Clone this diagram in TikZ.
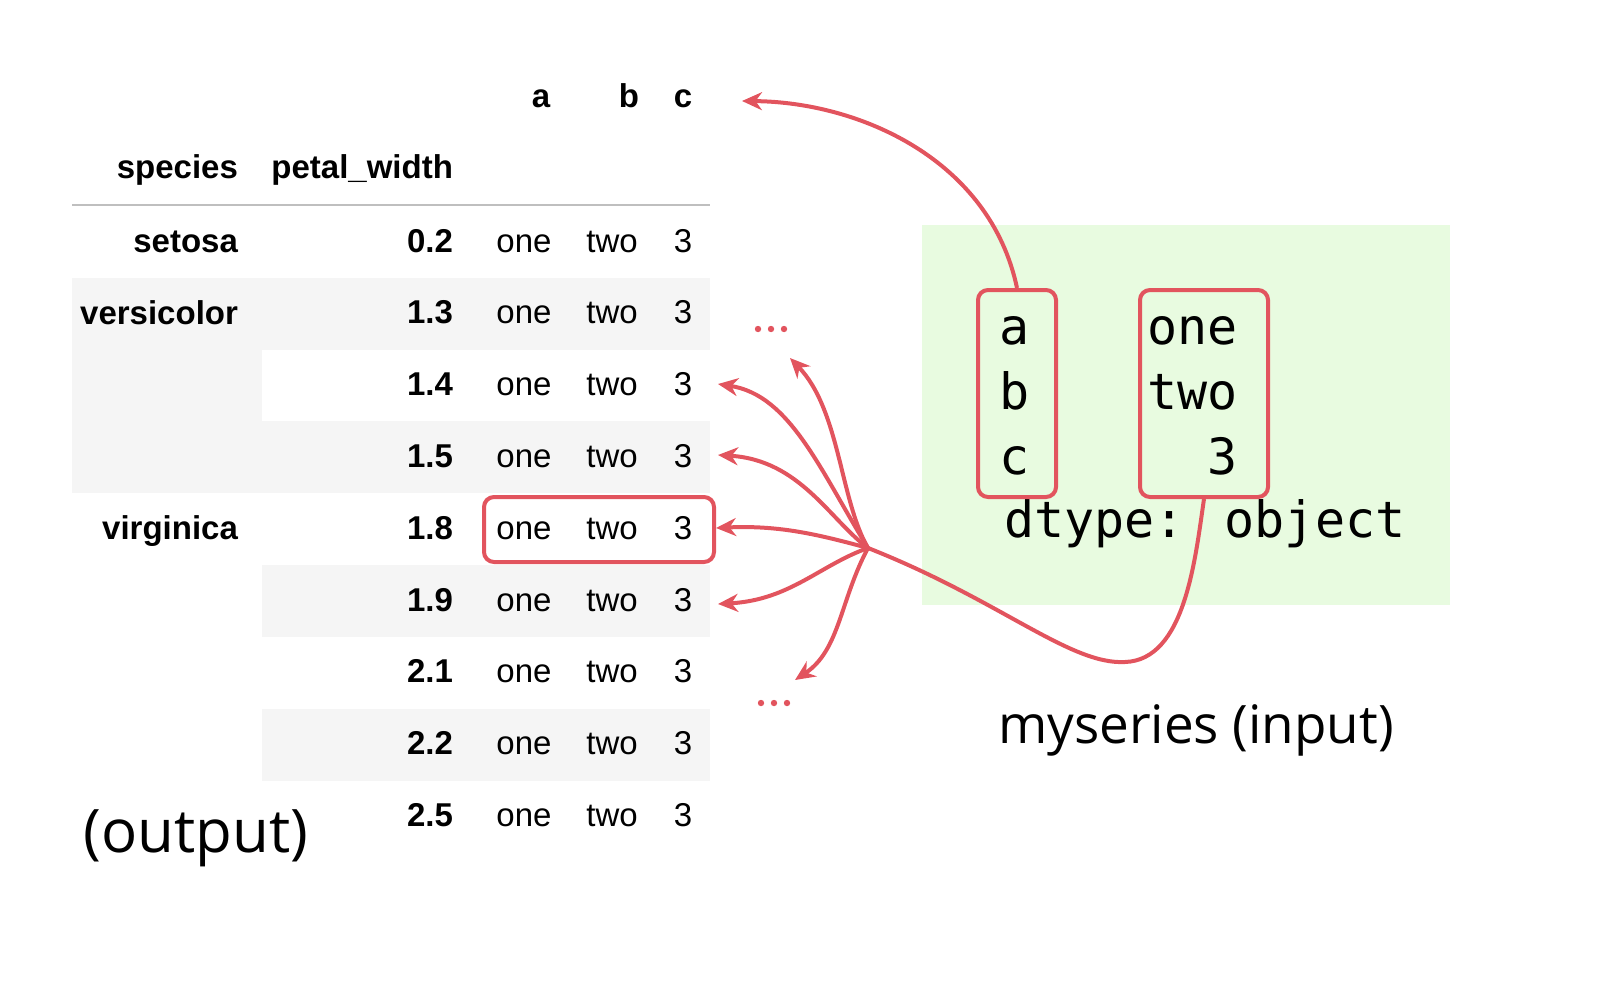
\documentclass[tikz,border=0pt]{standalone}
\usepackage{fontspec}
\setmainfont{Liberation Sans}
\newfontfamily\monof{DejaVu Sans Mono}
\newfontfamily\labf{Open Sans}
\usetikzlibrary{arrows.meta}
\definecolor{rd}{HTML}{E2545E}
\definecolor{rowgray}{HTML}{F5F5F5}
\definecolor{grn}{HTML}{E8FBE0}
\begin{document}
\begin{tikzpicture}[x=0.5pt,y=-0.5pt,
  cell/.style={font=\fontsize{16.5}{18}\selectfont},
  hd/.style={font=\fontsize{16.5}{18}\selectfont\bfseries},
  mono/.style={font=\monof\fontsize{25}{28}\selectfont},
  redbox/.style={draw=rd,line width=2pt,rounded corners=5pt},
  arr/.style={draw=rd,line width=2pt,-{Stealth[length=10pt,width=9pt]}}]
\useasboundingbox (0,0) rectangle (1600,991);
% shading
\fill[rowgray] (72,278) rectangle (710,350);
\fill[rowgray] (72,350) rectangle (262,421);
\fill[rowgray] (72,421) rectangle (710,493);
\fill[rowgray] (262,565) rectangle (710,637);
\fill[rowgray] (262,709) rectangle (710,781);
\draw[gray!50,line width=1pt] (72,205) -- (710,205);
% header
\node[hd,anchor=base] at (541,107) {a};
\node[hd,anchor=base] at (629,107) {b};
\node[hd,anchor=base] at (683,107) {c};
\node[hd,anchor=base east] at (245,178) {species};
\node[hd,anchor=base east] at (460,178) {petal\_width};
\node[hd,anchor=base east] at (245,252) {setosa};
\node[hd,anchor=base east] at (245,324) {versicolor};
\node[hd,anchor=base east] at (245,539) {virginica};
\foreach \v [count=\i] in {0.2,1.3,1.4,1.5,1.8,1.9,2.1,2.2,2.5}{
  \pgfmathsetmacro{\yy}{252+71.8*(\i-1)}
  \node[hd,anchor=base east] at (460,\yy) {\v};
  \node[cell,anchor=base] at (524,\yy) {one};
  \node[cell,anchor=base] at (612,\yy) {two};
  \node[cell,anchor=base] at (683,\yy) {3};
}
\node[redbox,minimum width=115pt,minimum height=32.5pt] (row) at (599,529.5) {};
% green box
\fill[grn] (922,225) rectangle (1450,605);
\node[mono,anchor=base] at (1015,344) {a};
\node[mono,anchor=base] at (1015,409) {b};
\node[mono,anchor=base] at (1015,474) {c};
\node[mono,anchor=base east] at (1245,344) {one};
\node[mono,anchor=base east] at (1245,409) {two};
\node[mono,anchor=base east] at (1245,474) {3};
\node[mono,anchor=base west] at (997,537) {dtype: object};
\node[redbox,minimum width=39pt,minimum height=103.5pt] (lb) at (1017,393.5) {};
\node[redbox,minimum width=64pt,minimum height=103.5pt] (rb) at (1204,393.5) {};
% connectors
\coordinate (hub) at (868,548);
\coordinate (t0) at (742,101);
\coordinate (t1) at (790,358);
\coordinate (t2) at (718,384);
\coordinate (t3) at (718,455);
\coordinate (t4) at (716,528);
\coordinate (t5) at (718,604);
\coordinate (t6) at (795,680);
\draw[arr] (lb.north) .. controls (990,160) and (860,102) .. (t0);
\draw[arr] (hub) .. controls (840,500) and (840,410) .. (t1);
\draw[arr] (hub) .. controls (820,470) and (790,395) .. (t2);
\draw[arr] (hub) .. controls (830,520) and (800,460) .. (t3);
\draw[arr] (hub) .. controls (820,535) and (780,525) .. (t4);
\draw[arr] (hub) .. controls (820,565) and (790,600) .. (t5);
\draw[arr] (hub) .. controls (840,600) and (840,650) .. (t6);
\draw[draw=rd,line width=2pt] (hub) .. controls (1000,600) and (1070,665) .. (1125,662) .. controls (1185,660) and (1195,560) .. (rb.south);
\foreach \dx in {-13,0,13}{
  \fill[rd] (771+\dx,329) circle (3.2);
  \fill[rd] (774+\dx,703) circle (3.2);
}
\node[font=\labf\fontsize{26.5}{30}\selectfont] at (1196,730) {myseries (input)};
\node[font=\labf\fontsize{30}{36}\selectfont] at (196,838) {(output)};
\end{tikzpicture}
\end{document}
